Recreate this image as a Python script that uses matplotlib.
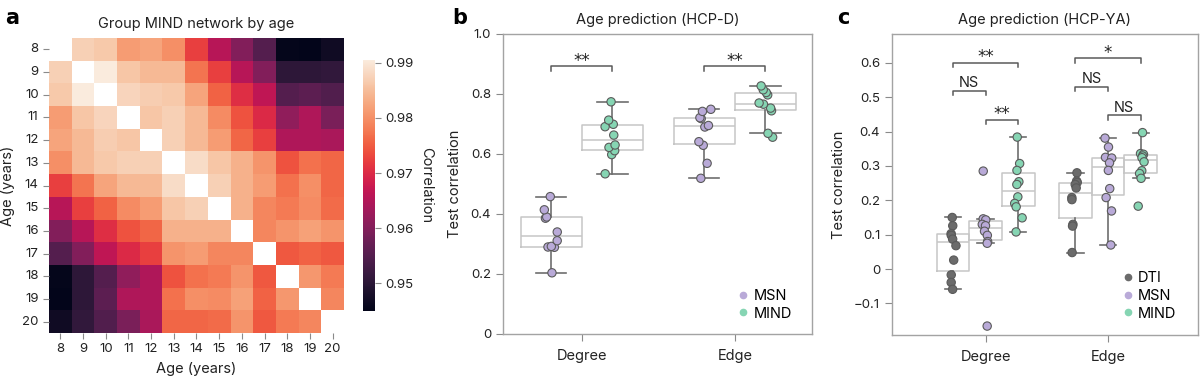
import numpy as np
import pandas as pd
import matplotlib
matplotlib.use("Agg")
import matplotlib.pyplot as plt
import seaborn as sns
from matplotlib.lines import Line2D
from matplotlib.ticker import FuncFormatter

# ---- data ----
ages = list(range(8, 21))
# upper triangle of the group MIND correlation matrix (row age, columns age+1 ... 20)
upper_corr = [
    [0.9873, 0.9864, 0.9814, 0.9823, 0.9800, 0.9723, 0.9655, 0.9600, 0.9550, 0.9455, 0.9450, 0.9468],
    [0.9905, 0.9860, 0.9846, 0.9846, 0.9773, 0.9723, 0.9655, 0.9600, 0.9505, 0.9505, 0.9509],
    [0.9878, 0.9869, 0.9864, 0.9823, 0.9755, 0.9705, 0.9664, 0.9550, 0.9559, 0.9546],
    [0.9860, 0.9873, 0.9846, 0.9796, 0.9741, 0.9700, 0.9614, 0.9646, 0.9591],
    [0.9873, 0.9846, 0.9814, 0.9759, 0.9723, 0.9646, 0.9646, 0.9641],
    [0.9887, 0.9860, 0.9837, 0.9805, 0.9741, 0.9769, 0.9759],
    [0.9873, 0.9837, 0.9814, 0.9769, 0.9800, 0.9759],
    [0.9837, 0.9791, 0.9778, 0.9796, 0.9764],
    [0.9791, 0.9805, 0.9819, 0.9805],
    [0.9746, 0.9755, 0.9746],
    [0.9809, 0.9778],
    [0.9791],
]

features = ["Degree", "Edge"]

# HCP-D test correlations (10 folds)
b_msn_degree = [0.204, 0.289, 0.290, 0.292, 0.311, 0.340, 0.386, 0.390, 0.414, 0.458]
b_mind_degree = [0.534, 0.598, 0.611, 0.622, 0.630, 0.663, 0.691, 0.699, 0.713, 0.774]
b_msn_edge = [0.519, 0.569, 0.629, 0.641, 0.690, 0.695, 0.718, 0.721, 0.742, 0.749]
b_mind_edge = [0.656, 0.669, 0.744, 0.753, 0.766, 0.770, 0.797, 0.805, 0.814, 0.827]

# HCP-YA test correlations
c_dti_degree = [0.150, 0.126, 0.103, 0.098, 0.087, 0.068, 0.026, -0.017, -0.039, -0.059]
c_msn_degree = [0.285, 0.146, 0.143, 0.130, 0.126, 0.110, 0.098, 0.080, 0.075, -0.166]
c_mind_degree = [0.384, 0.307, 0.287, 0.254, 0.246, 0.210, 0.191, 0.181, 0.149, 0.108]
c_dti_edge = [0.280, 0.256, 0.252, 0.246, 0.236, 0.208, 0.202, 0.130, 0.125, 0.048]
c_msn_edge = [0.381, 0.355, 0.325, 0.323, 0.309, 0.287, 0.234, 0.208, 0.169, 0.070]
c_mind_edge = [0.397, 0.336, 0.334, 0.329, 0.324, 0.312, 0.286, 0.278, 0.264, 0.183]

# significance brackets: (feature, method from, method to, height, label)
b_sig = [("Degree", "MSN", "MIND", 0.892, "**"), ("Edge", "MSN", "MIND", 0.892, "**")]
c_sig = [("Degree", "DTI", "MIND", 0.601, "**"), ("Degree", "DTI", "MSN", 0.519, "NS"),
         ("Degree", "MSN", "MIND", 0.434, "**"), ("Edge", "DTI", "MIND", 0.614, "*"),
         ("Edge", "DTI", "MSN", 0.531, "NS"), ("Edge", "MSN", "MIND", 0.447, "NS")]

colors = {"DTI": "#6b6b6b", "MSN": "#b9aad8", "MIND": "#86d5b3"}

# ---- style ----
plt.rcParams['font.family'] = ['Inter', 'DejaVu Sans']
plt.rcParams['font.size'] = 10
txt = "#222222"
tickc = "#8a8a8a"
lab_fs = 10.5
tick_fs = 9.5

W, H = 1200, 382
fig = plt.figure(figsize=(12, 3.82), dpi=100)


def rect(l, t, r, b):
    return [l / W, 1 - b / H, (r - l) / W, (b - t) / H]


# ---- panel a ----
ax_a = fig.add_axes(rect(49, 38, 344, 333))
cax = fig.add_axes(rect(363, 60, 375, 311))
n = len(ages)
corr = np.full((n, n), np.nan)
for i, row in enumerate(upper_corr):
    for k, v in enumerate(row):
        corr[i, i + 1 + k] = v
        corr[i + 1 + k, i] = v
sns.heatmap(corr, cmap="rocket", ax=ax_a, cbar_ax=cax, vmin=0.945, vmax=0.9905,
            xticklabels=ages, yticklabels=ages)
ax_a.tick_params(axis="both", colors=tickc, labelcolor=txt, labelsize=tick_fs, length=4, width=0.8)
ax_a.set_yticklabels(ages, rotation=0)
ax_a.set_xticklabels(ages, rotation=0)
ax_a.set_xlabel("Age (years)", fontsize=lab_fs, color=txt, labelpad=5)
ax_a.set_ylabel("Age (years)", fontsize=lab_fs, color=txt, labelpad=5)
ax_a.set_title("Group MIND network by age", fontsize=lab_fs, color=txt, pad=7)
cax.set_yticks([0.95, 0.96, 0.97, 0.98, 0.99])
cax.set_yticklabels(["0.95", "0.96", "0.97", "0.98", "0.99"])
cax.tick_params(colors=tickc, labelcolor=txt, labelsize=tick_fs, length=4, width=0.8)
cax.set_ylabel("Correlation", rotation=270, fontsize=lab_fs, color=txt, labelpad=14)


# ---- panels b, c ----
def box_panel(ax, data, methods, sigs, xlim, ylim, h):
    nm = len(methods)
    w = 0.8 / nm
    rows = []
    for fi, feat in enumerate(features):
        for mi, m in enumerate(methods):
            vals = data[m][fi]
            pos = fi + (mi - (nm - 1) / 2) * w
            ax.boxplot(vals, positions=[pos], widths=w, whis=1.5, showfliers=False,
                       manage_ticks=False, capwidths=w / 2,
                       boxprops=dict(color="#c6c6c6", lw=1.1),
                       medianprops=dict(color="#c6c6c6", lw=1.1),
                       whiskerprops=dict(color="#6e6e6e", lw=1.2),
                       capprops=dict(color="#6e6e6e", lw=1.2), zorder=2)
            for v in vals:
                rows.append((feat, m, v))
    df = pd.DataFrame(rows, columns=["feature", "method", "r"])
    sns.stripplot(data=df, x="feature", y="r", hue="method", order=features,
                  hue_order=methods, palette=colors, dodge=True, jitter=True,
                  size=6, linewidth=0.8, edgecolor="#5a5a5a", ax=ax, legend=False,
                  zorder=3)
    for feat, m1, m2, y, lab in sigs:
        fi = features.index(feat)
        x1 = fi + (methods.index(m1) - (nm - 1) / 2) * w
        x2 = fi + (methods.index(m2) - (nm - 1) / 2) * w
        ax.plot([x1, x1, x2, x2], [y - h, y, y, y - h], color="#5a5a5a", lw=1.1)
        if lab == "NS":
            ax.annotate(lab, ((x1 + x2) / 2, y), xytext=(0, 0.5), textcoords="offset points",
                        ha="center", va="bottom", fontsize=lab_fs, color=txt)
        else:
            ax.annotate(lab, ((x1 + x2) / 2, y), xytext=(0, -2.5), textcoords="offset points",
                        ha="center", va="bottom", fontsize=12, color=txt,
                        family="DejaVu Sans")
    ax.set_xlim(xlim)
    ax.set_ylim(ylim)
    ax.set_xlabel("")
    ax.set_ylabel("Test correlation", fontsize=lab_fs, color=txt, labelpad=6)
    for s in ax.spines.values():
        s.set_color("#a3a3a3")
        s.set_linewidth(1)
    ax.tick_params(axis="both", colors=tickc, labelcolor=txt, labelsize=tick_fs, length=5, width=0.8)
    ax.tick_params(axis="x", labelsize=lab_fs, pad=6)
    handles = [Line2D([], [], marker="o", ls="", color=colors[m], markersize=4.5) for m in methods]
    return handles


def fmt(v, pos):
    if abs(v) < 1e-9:
        return "0"
    return f"{v:.1f}".replace("-", "\u2212")


np.random.seed(3)
ax_b = fig.add_axes(rect(503, 34, 812, 334))
hb = box_panel(ax_b, {"MSN": [b_msn_degree, b_msn_edge], "MIND": [b_mind_degree, b_mind_edge]},
               ["MSN", "MIND"], b_sig, (-0.515, 1.505), (0, 1.0), 0.015)
ax_b.set_yticks([0, 0.2, 0.4, 0.6, 0.8, 1.0])
ax_b.yaxis.set_major_formatter(FuncFormatter(fmt))
ax_b.set_title("Age prediction (HCP-D)", fontsize=lab_fs, color=txt, pad=7)
ax_b.legend(hb, ["MSN", "MIND"], frameon=False, loc="lower right",
            bbox_to_anchor=(0.935, 0.045), borderaxespad=0, borderpad=0,
            handletextpad=0.1, labelspacing=0.25, handlelength=1.2, fontsize=lab_fs)

ax_c = fig.add_axes(rect(892, 34, 1198, 335))
hc = box_panel(ax_c, {"DTI": [c_dti_degree, c_dti_edge], "MSN": [c_msn_degree, c_msn_edge],
                      "MIND": [c_mind_degree, c_mind_edge]},
               ["DTI", "MSN", "MIND"], c_sig, (-0.765, 1.735), (-0.192, 0.684), 0.013)
ax_c.set_yticks([-0.1, 0, 0.1, 0.2, 0.3, 0.4, 0.5, 0.6])
ax_c.yaxis.set_major_formatter(FuncFormatter(fmt))
ax_c.set_title("Age prediction (HCP-YA)", fontsize=lab_fs, color=txt, pad=7)
ax_c.legend(hc, ["DTI", "MSN", "MIND"], frameon=False, loc="lower right",
            bbox_to_anchor=(0.93, 0.048), borderaxespad=0, borderpad=0,
            handletextpad=0.1, labelspacing=0.25, handlelength=1.2, fontsize=lab_fs)

for lab, x in [("a", 5), ("b", 452), ("c", 837)]:
    fig.text(x / W, 1 - 24 / H, lab, fontsize=15, fontweight="bold", color="black",
             family="DejaVu Sans")

fig.savefig("out.png", dpi=100)
